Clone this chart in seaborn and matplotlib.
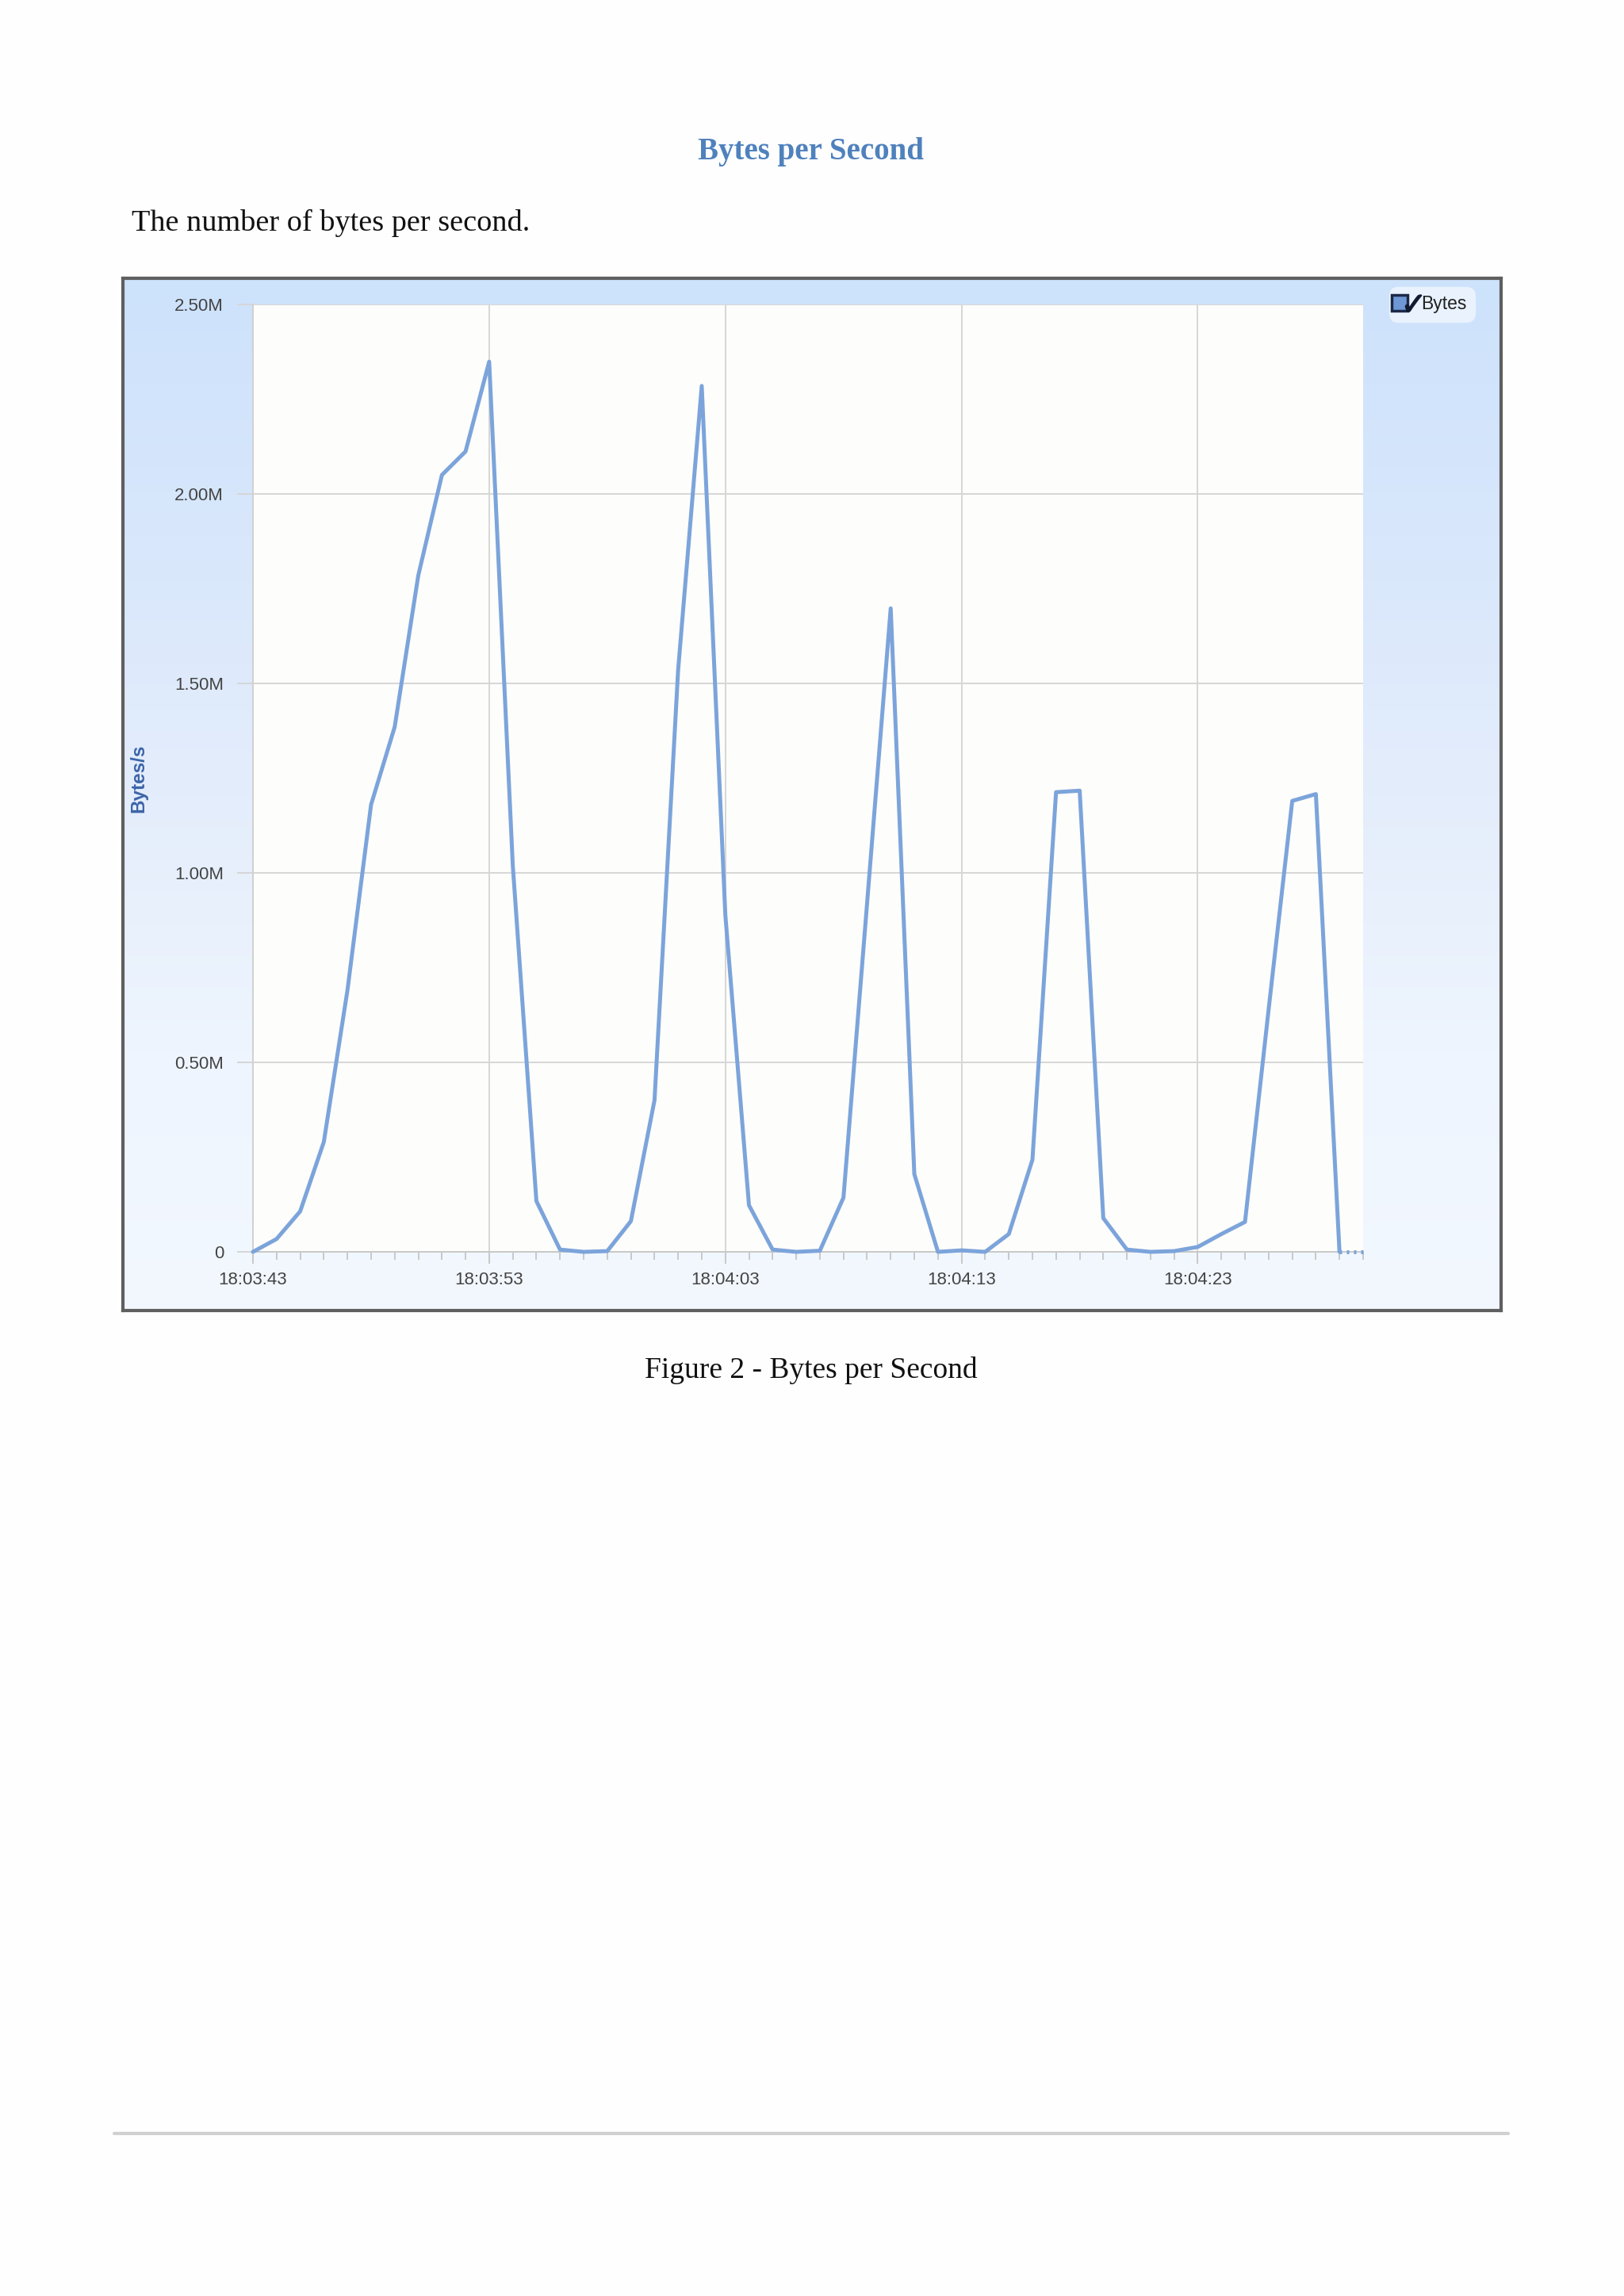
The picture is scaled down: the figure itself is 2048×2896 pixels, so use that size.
import numpy as np
import pandas as pd
import seaborn as sns
import matplotlib.pyplot as plt
from matplotlib.lines import Line2D
from matplotlib.legend_handler import HandlerTuple
from matplotlib.colors import LinearSegmentedColormap
from matplotlib.ticker import FixedLocator, MultipleLocator, FixedFormatter

# ---- data (seconds since 18:03:43, MBytes/s) ----
seconds = list(range(47))
bytes_m = [0.0, 0.034, 0.107, 0.29, 0.69, 1.18, 1.385, 1.785, 2.05, 2.112,
           2.349, 1.02, 0.134, 0.006, 0.0, 0.002, 0.081, 0.40, 1.535, 2.285,
           0.888, 0.123, 0.006, 0.0, 0.003, 0.143, 0.92, 1.698, 0.205, 0.0,
           0.004, 0.0, 0.047, 0.243, 1.213, 1.217, 0.089, 0.006, 0.0, 0.002,
           0.013, 0.047, 0.079, 0.64, 1.19, 1.208, 0.0]
# trailing dotted (pending) segment
tail_seconds = [46, 47]
tail_bytes_m = [0.0, 0.0]

time_ticks = [0, 10, 20, 30, 40]
time_labels = ["18:03:43", "18:03:53", "18:04:03", "18:04:13", "18:04:23"]
y_ticks = [0, 0.5, 1.0, 1.5, 2.0, 2.5]
y_labels = ["0", "0.50M", "1.00M", "1.50M", "2.00M", "2.50M"]

df = pd.DataFrame({"t": seconds, "bytes": bytes_m})

W, H = 2048, 2896


def box(l, t, r, b):
    # pixel box on the page -> figure fraction rect
    return [l / W, 1 - b / H, (r - l) / W, (b - t) / H]


sns.set_style("white")
plt.rcParams['font.family'] = ['Liberation Sans', 'DejaVu Sans']

fig = plt.figure(figsize=(20.48, 28.96), dpi=100)
fig.patch.set_facecolor('#fefefe')

# page text
serif = ['Liberation Serif', 'DejaVu Serif']
fig.text(1023 / W, 1 - 192 / H, "Bytes per Second", ha='center', va='center',
         family=serif, fontsize=28, fontweight='bold', color='#4f81bd')
fig.text(166 / W, 1 - 281 / H, "The number of bytes per second.", ha='left',
         va='center', family=serif, fontsize=27.5, color='#111111')
fig.text(1023 / W, 1 - 1729 / H, "Figure 2 - Bytes per Second", ha='center',
         va='center', family=serif, fontsize=27, color='#111111')
fig.add_artist(Line2D([144 / W, 1902 / W], [1 - 2691 / H, 1 - 2691 / H],
                      color='#d0d0d0', lw=3))

# chart panel with gradient background and dark frame
bg = fig.add_axes(box(155, 351, 1893, 1653))
panel_cmap = LinearSegmentedColormap.from_list(
    'panel', ['#cde2fb', '#d8e7fb', '#e4edfb', '#eef5fe', '#f3f8fe'])
bg.imshow(np.linspace(0, 1, 256).reshape(-1, 1), aspect='auto', cmap=panel_cmap,
          extent=[0, 1, 0, 1])
bg.set_xticks([])
bg.set_yticks([])
for s in bg.spines.values():
    s.set_color('#5f5f5f')
    s.set_linewidth(3)

ax = fig.add_axes(box(319, 384, 1719, 1579))
ax.set_facecolor('#fdfdfb')

sns.lineplot(data=df, x="t", y="bytes", ax=ax, color='#7ca4db', linewidth=3.6,
             clip_on=False, zorder=5)
ax.plot(tail_seconds, tail_bytes_m, color='#7ca4db', linewidth=3.6,
        linestyle=(0, (0.6, 1.2)), clip_on=False, zorder=5)

ax.set_xlim(0, 47)
ax.set_ylim(0, 2.5)

ax.xaxis.set_major_locator(FixedLocator(time_ticks))
ax.xaxis.set_major_formatter(FixedFormatter(time_labels))
ax.xaxis.set_minor_locator(MultipleLocator(1))
ax.yaxis.set_major_locator(FixedLocator(y_ticks))
ax.yaxis.set_major_formatter(FixedFormatter(y_labels))

ax.grid(True, which='major', color='#d6d6d6', linewidth=1.4)
ax.tick_params(axis='x', which='major', direction='out', length=11, width=1.4,
               color='#c8c8c8', labelsize=16, labelcolor='#444444', pad=7,
               bottom=True)
ax.tick_params(axis='x', which='minor', direction='out', length=7, width=1.4,
               color='#c8c8c8', bottom=True)
ax.tick_params(axis='y', which='major', direction='out', length=14.5, width=1.4,
               color='#d6d6d6', labelsize=16, labelcolor='#444444', pad=12,
               left=True)

for side in ['top', 'right']:
    ax.spines[side].set_visible(False)
ax.spines['left'].set_color('#d0d0d0')
ax.spines['left'].set_linewidth(1.4)
ax.spines['bottom'].set_color('#c8c8c8')
ax.spines['bottom'].set_linewidth(1.4)

ax.set_xlabel("")
ax.set_ylabel("Bytes/s", color='#3d64a8', fontsize=17.5, fontweight='bold')
ax.yaxis.set_label_coords((186 - 319) / 1400, 0.5)

# legend with a checked box handle
box_handle = Line2D([], [], marker='s', markersize=15, markerfacecolor='#6f97d4',
                    markeredgecolor='#1b2a48', markeredgewidth=2.5, linestyle='none')
check_handle = Line2D([], [], marker=r'$\checkmark$', markersize=15,
                      color='#111a30', linestyle='none')
leg = fig.legend([(box_handle, check_handle)], ["Bytes"],
                 handler_map={tuple: HandlerTuple(ndivide=None)},
                 loc='upper left', bbox_to_anchor=(1752 / W, 1 - 362 / H),
                 frameon=True, fancybox=True, facecolor='#e9f2fd',
                 edgecolor='#e9f2fd', framealpha=1, fontsize=16.5,
                 handlelength=1.0, handletextpad=0.3, borderpad=0.45,
                 borderaxespad=0)
leg.get_frame().set_boxstyle('round', pad=0.0, rounding_size=0.5)
for t in leg.get_texts():
    t.set_color('#222222')
leg._legend_box.align = 'left'

fig.savefig("out.png", dpi=100, facecolor=fig.get_facecolor())
